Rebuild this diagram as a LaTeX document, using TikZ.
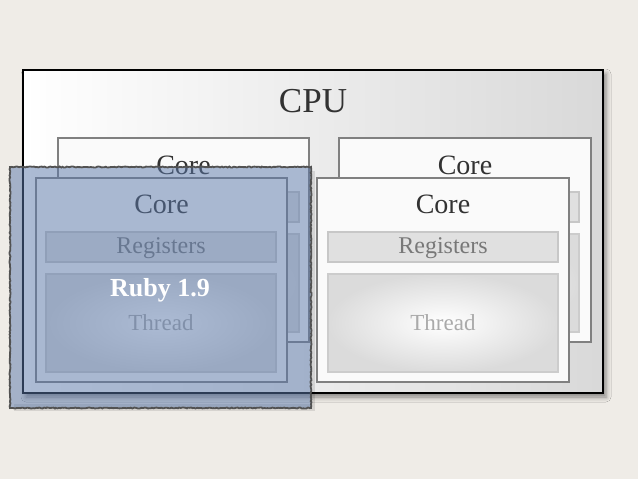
\documentclass[tikz,border=0pt]{standalone}
\usepackage{fontspec}
\setmainfont{Liberation Serif}
\usetikzlibrary{shadows.blur,decorations.pathmorphing}
\definecolor{bg}{RGB}{239,236,231}
\definecolor{ovblue}{RGB}{90,120,170}
\definecolor{txtdark}{RGB}{50,50,50}
\definecolor{txtreg}{RGB}{120,120,120}
\definecolor{txtthr}{RGB}{170,170,170}
\tikzset{
  box/.style={rectangle, inner sep=0pt, outer sep=0pt, anchor=north west},
  cpubox/.style={box, draw=black, line width=1.6pt, left color=white, right color=black!15,
    blur shadow={shadow xshift=3pt, shadow yshift=-4pt, shadow blur radius=5pt, shadow opacity=45}},
  corebox/.style={box, draw=black!50, line width=1.2pt, fill=black!2},
  regbox/.style={box, draw=black!22, line width=1.2pt, fill=black!12},
  thrbox/.style={box, draw=black!20, line width=1.2pt, inner color=white, outer color=black!14},
  cpulabel/.style={font=\fontsize{35}{40}\selectfont, text=txtdark},
  corelabel/.style={font=\fontsize{28}{32}\selectfont, text=txtdark},
  reglabel/.style={font=\fontsize{24}{28}\selectfont, text=txtreg},
  thrlabel/.style={font=\fontsize{23}{27}\selectfont, text=txtthr},
  rubylabel/.style={font=\bfseries\fontsize{26}{30}\selectfont, text=white},
  overlay/.style={box, fill=ovblue, fill opacity=0.5},
  shadowstrip/.style={fill=black, opacity=0.10},
  roughedge/.style={draw=black!68, line width=1.8pt, decorate,
    decoration={random steps, segment length=1.5pt, amplitude=0.5pt}}
}
\begin{document}
\begin{tikzpicture}[x=1pt,y=-1pt]
\pgfmathsetseed{7}
\useasboundingbox (0,0) rectangle (638,479);
\fill[bg] (0,0) rectangle (638,479);
% CPU
\node[cpubox, minimum width=580pt, minimum height=323pt] (cpu) at (23,70) {};
\node[cpulabel] (cputxt) at (313,101) {CPU};
% back cores
\node[corebox, minimum width=251pt, minimum height=204pt] (bcL) at (58,138) {};
\node[corelabel] (bcLt) at (183.5,165) {Core};
\node[regbox, minimum width=231pt, minimum height=30pt] (bcLr) at (68,192) {};
\node[thrbox, minimum width=231pt, minimum height=98pt] (bcLth) at (68,234) {};
\node[corebox, minimum width=252pt, minimum height=204pt] (bcR) at (339,138) {};
\node[corelabel] (bcRt) at (465,165) {Core};
\node[regbox, minimum width=230pt, minimum height=30pt] (bcRr) at (349,192) {};
\node[thrbox, minimum width=230pt, minimum height=98pt] (bcRth) at (349,234) {};
% front cores
\node[corebox, minimum width=251pt, minimum height=204pt] (fcL) at (36,178) {};
\node[corelabel] (fcLt) at (161.5,204) {Core};
\node[regbox, minimum width=230pt, minimum height=30pt] (fcLr) at (46,232) {};
\node[reglabel] (fcLrt) at ([yshift=-1.5pt]fcLr.center) {Registers};
\node[thrbox, minimum width=230pt, minimum height=98pt] (fcLth) at (46,274) {};
\node[thrlabel] (fcLtht) at (161,323) {Thread};
\node[corebox, minimum width=252pt, minimum height=204pt] (fcR) at (317,178) {};
\node[corelabel] (fcRt) at (443,204) {Core};
\node[regbox, minimum width=230pt, minimum height=30pt] (fcRr) at (328,232) {};
\node[reglabel] (fcRrt) at ([yshift=-1.5pt]fcRr.center) {Registers};
\node[thrbox, minimum width=230pt, minimum height=98pt] (fcRth) at (328,274) {};
\node[thrlabel] (fcRtht) at (443,323) {Thread};
% Ruby overlay: soft shadow outside, then translucent fill
\fill[shadowstrip] (14,404) rectangle (315,411);
\fill[shadowstrip] (311,171) rectangle (315,404);
\node[overlay, minimum width=301pt, minimum height=241pt] (ruby) at (10,167) {};
\draw[roughedge] (ruby.north west) -- (ruby.north east) -- (ruby.south east) -- (ruby.south west) -- cycle;
\node[rubylabel] (rubyt) at (160,290) {Ruby 1.9};
\end{tikzpicture}
\end{document}
